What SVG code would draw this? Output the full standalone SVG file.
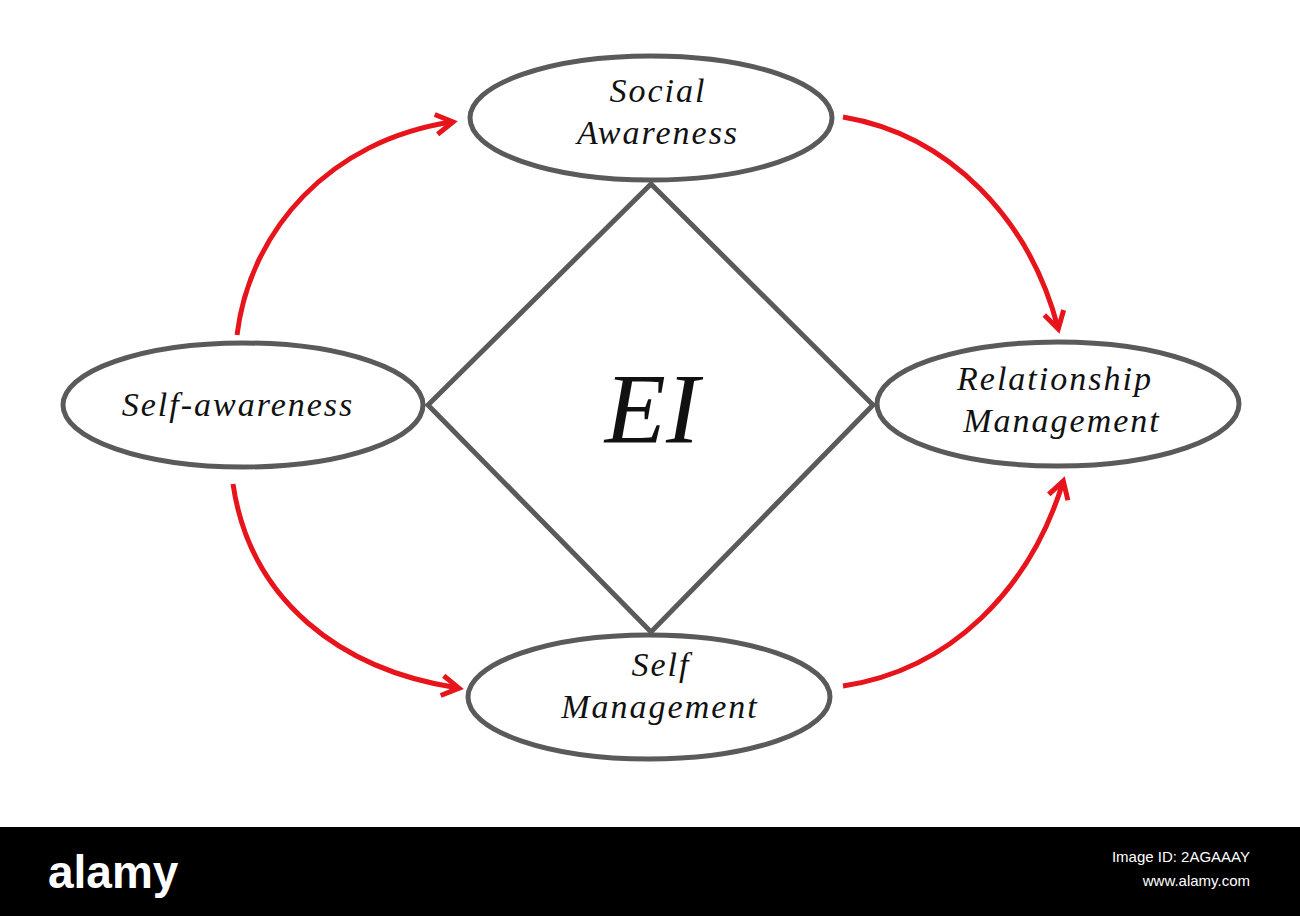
<svg xmlns="http://www.w3.org/2000/svg" width="1300" height="916" viewBox="0 0 1300 916">
<style>
.n{fill:#fff;stroke:#5a5a5a;stroke-width:5}
.t{font-family:"Liberation Serif",serif;font-style:italic;font-size:34px;fill:#111;text-anchor:middle;letter-spacing:2px}
.c{fill:none;stroke:#e8141b;stroke-width:5}
</style>
<defs><marker id="a" markerWidth="10" markerHeight="10" refX="7" refY="5" orient="auto" markerUnits="userSpaceOnUse" viewBox="0 0 10 10"><path d="M0,0 L8,5 L0,10" fill="none" stroke="#e8141b" stroke-width="2"/></marker>
<marker id="b" markerWidth="26" markerHeight="26" refX="20" refY="13" orient="auto" markerUnits="userSpaceOnUse"><path d="M4,3 L21,13 L4,23" fill="none" stroke="#e8141b" stroke-width="5"/></marker></defs>
<rect width="1300" height="916" fill="#fff"/>
<g id="connectors">
<path class="c" d="M237,335 C250,230 330,140 452,122" marker-end="url(#b)"/>
<path class="c" d="M843,117 C950,135 1030,220 1058,328" marker-end="url(#b)"/>
<path class="c" d="M233,484 C250,600 340,670 458,688" marker-end="url(#b)"/>
<path class="c" d="M843,686 C950,670 1030,590 1063,482" marker-end="url(#b)"/>
</g>
<g id="diamond"><polygon points="651,184 873,405 651,632 428,405" fill="none" stroke="#5a5a5a" stroke-width="5"/>
<text x="652" y="442" font-family="Liberation Serif,serif" font-style="italic" font-size="100" text-anchor="middle" fill="#111">EI</text></g>
<g id="social"><ellipse class="n" cx="651" cy="118" rx="181" ry="62"/><text class="t" x="658" y="102">Social</text><text class="t" x="658" y="144">Awareness</text></g>
<g id="selfaw"><ellipse class="n" cx="243" cy="405" rx="180" ry="62"/><text class="t" x="238" y="416">Self-awareness</text></g>
<g id="rel"><ellipse class="n" cx="1058" cy="404" rx="181" ry="62"/><text class="t" x="1055" y="390">Relationship</text><text class="t" x="1062" y="432">Management</text></g>
<g id="selfman"><ellipse class="n" cx="649" cy="697" rx="181" ry="62"/><text class="t" x="661" y="676">Self</text><text class="t" x="660" y="718">Management</text></g>
<g id="bar"><rect x="0" y="827" width="1300" height="89" fill="#000"/>
<text x="48" y="888" font-family="Liberation Sans,sans-serif" font-weight="bold" font-size="46" fill="#fff">alamy</text>
<text x="1250" y="862" font-family="Liberation Sans,sans-serif" font-size="15" fill="#fff" text-anchor="end">Image ID: 2AGAAAY</text>
<text x="1250" y="886" font-family="Liberation Sans,sans-serif" font-size="15" fill="#fff" text-anchor="end">www.alamy.com</text></g>
</svg>
